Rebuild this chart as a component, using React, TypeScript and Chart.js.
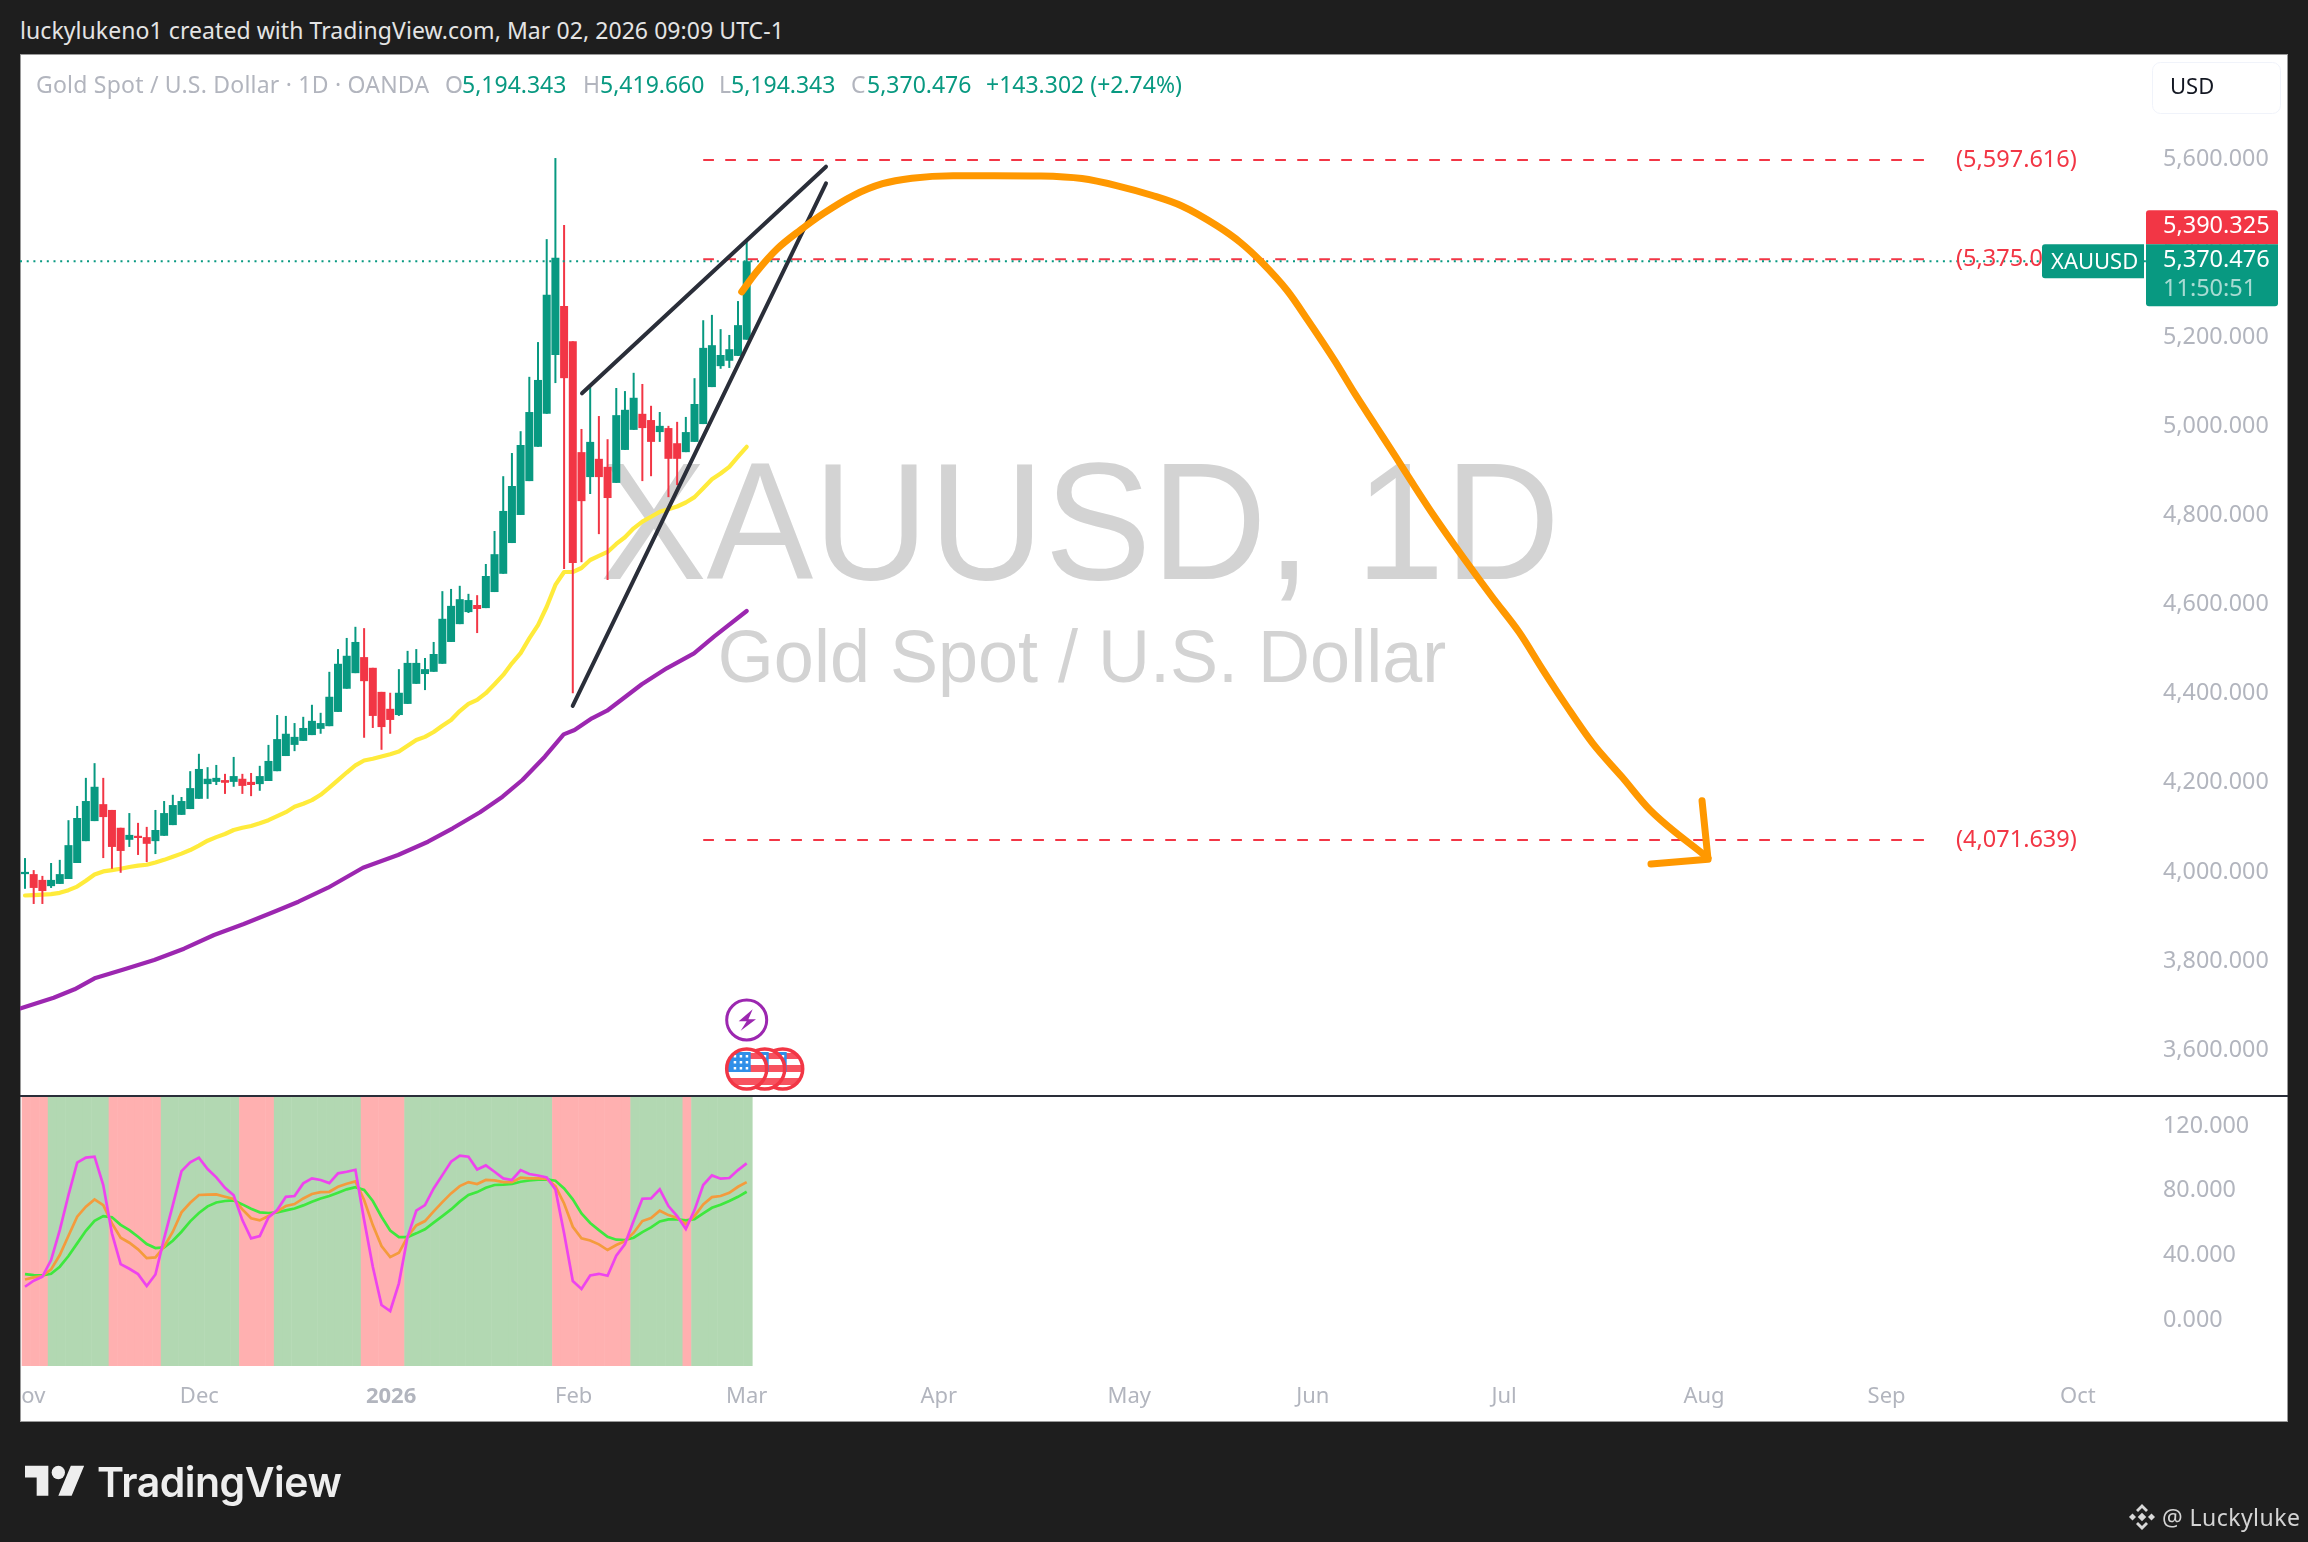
import React, { useEffect, useRef } from "react";
import { Chart, registerables } from "chart.js";

Chart.register(...registerables);

const WIDTH = 2308;
const HEIGHT = 1542;
const FONT = '"Noto Sans", sans-serif';
const GREEN = "#089981";
const RED = "#f23645";
const AXIS_TEXT = "#b2b5be";

// ---------- daily candles (XAUUSD, 1D) ----------
const opens = [3995,3995,3982,3968,3973,3984,4020,4069,4114,4152,4139,4099,4072,4081,4078,4069,4081,4105,4128,4141,4164,4197,4202,4206,4202,4209,4202,4197,4204,4226,4260,4285,4294,4307,4321,4327,4359,4411,4446,4482,4458,4404,4366,4352,4377,4422,4444,4449,4467,4516,4556,4583,4599,4592,4628,4669,4738,4801,4877,4954,5028,5160,5270,5191,4942,4886,4927,4909,4873,4947,4992,5028,5014,4987,4996,4962,4942,4965,5005,5088,5135,5147,5158,5194.343];
const highs = [4031,4004,3991,4020,4027,4116,4148,4211,4244,4211,4139,4099,4132,4110,4101,4139,4159,4173,4168,4226,4265,4235,4240,4220,4258,4220,4222,4238,4285,4352,4350,4334,4348,4375,4357,4449,4500,4525,4550,4547,4458,4404,4402,4455,4496,4500,4480,4516,4630,4635,4642,4624,4621,4691,4765,4888,4940,4989,5111,5189,5420,5602,5452,5191,4994,5088,5023,4971,5086,5079,5120,5095,5046,5032,5001,5010,5021,5108,5238,5250,5218,5205,5281,5419.66];
const lows = [3962,3928,3928,3964,3973,3984,4020,4069,4114,4031,4007,3998,4056,4038,4022,4040,4081,4105,4128,4141,4164,4164,4195,4175,4191,4175,4170,4182,4204,4226,4260,4271,4294,4307,4310,4327,4359,4411,4446,4301,4323,4274,4310,4350,4377,4422,4408,4449,4467,4516,4556,4581,4536,4592,4628,4669,4738,4801,4877,4954,5028,5097,4680,4401,4695,4848,4758,4655,4873,4947,4992,4877,4888,4965,4841,4868,4942,4965,5005,5088,5129,5131,5158,5194.343];
const closes = [4000,3964,3957,3982,3995,4060,4121,4159,4191,4123,4056,4047,4083,4076,4063,4094,4132,4150,4159,4188,4231,4209,4211,4200,4215,4193,4195,4215,4249,4298,4310,4303,4323,4339,4334,4393,4467,4485,4516,4428,4350,4325,4341,4402,4469,4469,4455,4489,4568,4597,4612,4610,4590,4664,4713,4810,4866,4958,5032,5104,5295,5378,5108,4693,4832,4965,4886,4839,5025,5037,5064,4996,4965,5001,4927,4927,4987,5050,5176,5182,5160,5173,5227,5370.476];

// ---------- moving averages ----------
const fastMa = [3947,3948,3949,3950,3953,3959,3967,3980,3994,4001,4004,4007,4011,4014,4016,4021,4027,4034,4041,4049,4059,4070,4078,4085,4094,4099,4103,4109,4116,4125,4134,4146,4153,4161,4173,4189,4206,4223,4239,4250,4254,4259,4264,4270,4283,4296,4303,4314,4328,4341,4361,4377,4386,4401,4421,4442,4468,4491,4524,4554,4595,4644,4673,4673,4682,4700,4709,4718,4736,4751,4771,4786,4797,4808,4814,4820,4829,4841,4861,4881,4894,4909,4932,4954];
const slowMaBars = [-0.47,3.3,5.7,8,11.43,14.86,18.29,21.74,25.16,28.87,31.45,34.85,38.87,42.9,46.35,49.19,52.33,54.92,57.2,59.78,61.95,63.2,65.2,66.94,70.94,73.8,76.94,79.24,83];
const slowMaValues = [3693.8,3717.6,3736.5,3761.2,3781.4,3802.2,3827.6,3858.3,3883,3912.2,3933.1,3964.5,4009.4,4037.9,4067.7,4097.8,4133.7,4168.7,4206.2,4258.5,4308.7,4318.4,4344.7,4361.7,4421,4456.9,4490.5,4527.8,4585.5];

// ---------- lower pane oscillator ----------
const oscFast = [20.6,24.3,26.8,37.1,55.6,77.3,97.3,100.4,101,83.5,53.6,34.6,31.7,28.4,21,28.2,50.5,71.1,92.1,97.5,100.4,93.4,88.2,81.8,77.1,61.8,50.5,51.9,63.5,68,76.2,76.7,84.5,87.6,86.6,84.7,90.7,91.7,92.9,61.8,33,9.3,5.6,22.7,51.5,67.6,71.1,81.4,89.6,97.9,101.6,101,93.1,95.6,91.7,87.6,86.6,92.7,90.3,89.4,88.2,80.8,53.6,24.1,19.2,27.6,28.6,27.4,39.8,47,61.4,75,75.2,80.8,70.5,64.3,56.3,68,83.5,89.4,87.4,87.8,92.7,96.9];
const oscMid = [25.1,26.4,27.2,31.3,40.2,52.1,63.9,70.1,74.6,71.1,59.8,50.9,47.8,43.7,38.3,38.7,45.3,54.6,66.6,72.5,77.3,77.5,77.7,76.2,74.8,68.4,62.9,61.6,64.3,67.2,70.5,71.7,75.2,77.9,79.1,79.3,82.4,84.3,85.7,74.2,58.7,45.7,38.9,41.6,51.5,58.5,61.2,67.2,72.9,78.3,82.8,85.3,84.1,86.6,86.3,85.3,85.3,88,87.6,87.6,87.2,82.8,72.1,57.7,50.5,49.2,46.8,43.3,46.4,48.8,54,61.2,63.1,67.6,64.9,63.1,59.3,64.3,71.5,76,76.7,78.7,82.4,85.3];
const oscSlow = [28.4,27.8,27.6,28.6,33,39.6,47.4,55.2,61.4,64.3,63.5,58.9,55.6,51.5,47,44.5,44.9,49,54.6,61,66.2,70.3,72.7,73.6,74,71.5,68.8,66.6,66.2,66.6,67.8,69,70.9,73.2,75.2,76.7,78.7,80.8,82.2,80.4,73.6,63.9,55.4,51.3,51.3,53.6,56.1,60.2,64.3,68.4,73.2,77.3,79.1,81.8,83.5,83.7,84.1,85.5,86.3,86.8,87,86.1,81.4,74.6,65.9,60,55.6,51.5,49.7,49.5,50.9,54.4,57.3,61,62.2,62.2,61.6,62.4,65.9,69.4,71.3,73.6,76.2,79.3];
// run lengths (in bars) of the alternating background, starting with the bearish colour
const bandRuns = [3, 7, 6, 9, 4, 10, 5, 17, 9, 6, 1, 7];

// ---------- drawings ----------
const wedgeUpperBars = [64.06, 92.12];
const wedgeUpperValues = [5074, 5582.65];
const wedgeLowerBars = [62.99, 92.12];
const wedgeLowerValues = [4372.3, 5545.2];
const forecastBars = [82.43,84.12,86.49,89.18,91.88,95.25,98.63,102,106.73,111.44,116.85,121.56,125.63,129.67,133.05,137.09,139.8,142.15,145.2,147.56,150.6,152.96,155.3,157.67,159.37,162.05,165.45,168.83,171.82,174.56,177.26,180.3,183.67,186.89,193.56];
const forecastValues = [5301.8,5346.2,5397.9,5440.5,5478.4,5517.9,5544.4,5556.8,5562.4,5562.4,5561.7,5555.9,5539.7,5517.9,5494.4,5449.9,5412.2,5369.8,5303.6,5237.4,5147.9,5072.5,5002,4930.6,4878.6,4798.7,4704.4,4614.6,4538.3,4453.5,4373.2,4288.4,4212.9,4138.9,4031];
const arrowBars = [192.87, 193.56, 187.0];
const arrowValues = [4159.7, 4028.2, 4017.7];
const levelValues = [5597.616, 5375.0, 4071.639];
const levelStartBar = 78;
const levelEndBar = 218.4;
const levelLabelBar = 222.08;
const lastClose = 5370.476;
const askPrice = 5390.325;

// ---------- axes ----------
const priceTicks = [5600, 5400, 5200, 5000, 4800, 4600, 4400, 4200, 4000, 3800, 3600];
const oscTicks = [120, 80, 40, 0];
const timeTickBars = [0, 20.05, 42.1, 63.1, 83, 105.1, 127, 148.1, 170.1, 193.1, 214.1, 236.1];
const timeTickLabels = ["Nov", "Dec", "2026", "Feb", "Mar", "Apr", "May", "Jun", "Jul", "Aug", "Sep", "Oct"];
const boldTimeTick = "2026";

const fmt = (v: number) =>
  v.toLocaleString("en-US", { minimumFractionDigits: 3, maximumFractionDigits: 3 });
const zipXY = (xs: number[], ys: number[]) => xs.map((x, i) => ({ x, y: ys[i] }));

const legendParts = [
  { x: 36, text: "Gold Spot / U.S. Dollar · 1D · OANDA", color: AXIS_TEXT, spacing: "0.22px" },
  { x: 445, text: "O", color: AXIS_TEXT, spacing: "0px" },
  { x: 462, text: "5,194.343", color: GREEN, spacing: "0px" },
  { x: 583, text: "H", color: AXIS_TEXT, spacing: "0px" },
  { x: 600, text: "5,419.660", color: GREEN, spacing: "0px" },
  { x: 719, text: "L", color: AXIS_TEXT, spacing: "0px" },
  { x: 731, text: "5,194.343", color: GREEN, spacing: "0px" },
  { x: 851, text: "C", color: AXIS_TEXT, spacing: "0px" },
  { x: 867, text: "5,370.476", color: GREEN, spacing: "0px" },
  { x: 986, text: "+143.302 (+2.74%)", color: GREEN, spacing: "0px" },
];

function rr(ctx: CanvasRenderingContext2D, x: number, y: number, w: number, h: number, r: any) {
  ctx.beginPath();
  ctx.roundRect(x, y, w, h, r);
}

function drawFlag(ctx: CanvasRenderingContext2D, cx: number, cy: number) {
  ctx.save();
  ctx.beginPath();
  ctx.arc(cx, cy, 20, 0, Math.PI * 2);
  ctx.fillStyle = "#ffffff";
  ctx.fill();
  ctx.clip();
  ctx.fillStyle = "#f7525f";
  ctx.fillRect(cx - 20, cy - 16, 40, 6);
  ctx.fillRect(cx - 20, cy - 4, 40, 7);
  ctx.fillRect(cx - 20, cy + 9, 40, 7);
  ctx.fillStyle = "#2f8fe8";
  ctx.fillRect(cx - 20, cy - 17, 24, 20);
  ctx.fillStyle = "#ffffff";
  for (let r = 0; r < 3; r++) {
    for (let c = 0; c < 3; c++) {
      ctx.fillRect(cx - 13 + c * 6, cy - 14 + r * 6, 2.5, 2.5);
    }
  }
  ctx.restore();
  ctx.beginPath();
  ctx.arc(cx, cy, 20, 0, Math.PI * 2);
  ctx.lineWidth = 3.5;
  ctx.strokeStyle = RED;
  ctx.stroke();
}

const watermarkPlugin = {
  id: "watermark",
  beforeDatasetsDraw(chart: any) {
    const ctx = chart.ctx as CanvasRenderingContext2D;
    ctx.save();
    ctx.fillStyle = "#d3d3d3";
    ctx.textAlign = "center";
    ctx.textBaseline = "alphabetic";
    ctx.save();
    ctx.translate(1080, 578.5);
    ctx.scale(1, 1.04);
    ctx.font = '160px "Liberation Sans"';
    ctx.fillText("XAUUSD, 1D", 0, 0);
    ctx.restore();
    ctx.save();
    ctx.translate(1082, 682);
    ctx.scale(1, 1.04);
    ctx.font = '72px "Liberation Sans"';
    ctx.fillText("Gold Spot / U.S. Dollar", 0, 0);
    ctx.restore();
    ctx.restore();
  },
};

const overlayPlugin = {
  id: "overlay",
  afterDatasetsDraw(chart: any) {
    const ctx = chart.ctx as CanvasRenderingContext2D;
    const xs = chart.scales.x;
    const ys = chart.scales.y;
    ctx.save();

    // pane separator
    ctx.fillStyle = "#2a2e39";
    ctx.fillRect(20, 1095, 2268, 2);

    ctx.textBaseline = "middle";
    ctx.textAlign = "left";

    // legend
    ctx.font = `23px ${FONT}`;
    legendParts.forEach((p) => {
      (ctx as any).letterSpacing = p.spacing;
      ctx.fillStyle = p.color;
      ctx.fillText(p.text, p.x, 86.5);
    });
    (ctx as any).letterSpacing = "0px";

    // level labels
    ctx.font = `23.5px ${FONT}`;
    ctx.fillStyle = RED;
    levelValues.forEach((v) => {
      ctx.fillText(`(${fmt(v)})`, xs.getPixelForValue(levelLabelBar), ys.getPixelForValue(v));
    });

    // USD box
    ctx.fillStyle = "#ffffff";
    ctx.strokeStyle = "#f0f3fa";
    ctx.lineWidth = 1;
    rr(ctx, 2152.5, 62.5, 128, 51, 8);
    ctx.fill();
    ctx.stroke();
    ctx.fillStyle = "#131722";
    ctx.font = `22px ${FONT}`;
    ctx.fillText("USD", 2170, 88);

    // price tags
    const closeY = ys.getPixelForValue(lastClose);
    ctx.fillStyle = GREEN;
    rr(ctx, 2042, closeY - 17, 102, 34, [3, 0, 0, 3]);
    ctx.fill();
    ctx.fillStyle = RED;
    rr(ctx, 2146, closeY - 51, 132, 34, [3, 3, 0, 0]);
    ctx.fill();
    ctx.fillStyle = GREEN;
    rr(ctx, 2146, closeY - 17, 132, 62, [0, 0, 3, 3]);
    ctx.fill();
    ctx.fillStyle = "#ffffff";
    ctx.font = `22px ${FONT}`;
    ctx.fillText("XAUUSD", 2051, closeY + 2);
    ctx.font = `23.5px ${FONT}`;
    ctx.fillText(fmt(askPrice), 2163, closeY - 35);
    ctx.fillText(fmt(lastClose), 2163, closeY - 1);
    ctx.fillStyle = "rgba(255,255,255,0.65)";
    ctx.fillText("11:50:51", 2163, closeY + 28);

    // event markers on the last bar
    const lx = xs.getPixelForValue(opens.length - 1);
    drawFlag(ctx, lx + 36, 1069);
    drawFlag(ctx, lx + 18, 1069);
    drawFlag(ctx, lx, 1069);
    const by = 1020;
    ctx.beginPath();
    ctx.arc(lx, by, 20, 0, Math.PI * 2);
    ctx.fillStyle = "#ffffff";
    ctx.fill();
    ctx.strokeStyle = "#9c27b0";
    ctx.lineWidth = 3;
    ctx.stroke();
    ctx.beginPath();
    ctx.moveTo(lx + 6, by - 10.7);
    ctx.lineTo(lx - 8, by + 1.3);
    ctx.lineTo(lx, by + 1.3);
    ctx.lineTo(lx - 6, by + 10.7);
    ctx.lineTo(lx + 9.3, by - 0.7);
    ctx.lineTo(lx + 1.7, by - 0.7);
    ctx.closePath();
    ctx.fillStyle = "#9c27b0";
    ctx.fill();

    ctx.restore();
  },
};

export default function App() {
  const ref = useRef<HTMLCanvasElement | null>(null);

  useEffect(() => {
    if (!ref.current) return;
    const bars = opens.map((_, i) => i);
    const isUp = (i: number) => closes[i] >= opens[i];
    const candleColors = bars.map((i) => (isUp(i) ? GREEN : RED));

    const bandColors: string[] = [];
    bandRuns.forEach((n, k) => {
      for (let j = 0; j < n; j++) bandColors.push(k % 2 === 0 ? "#ffb0b0" : "#b2d8b2");
    });

    const OSC_MIN = -28.4;
    const OSC_MAX = 137.9;
    const lineBase = { type: "line", pointRadius: 0, fill: false, tension: 0 };

    const chart = new Chart(ref.current, {
      type: "bar",
      plugins: [watermarkPlugin, overlayPlugin],
      data: {
        datasets: [
          {
            label: "bands",
            type: "bar",
            yAxisID: "y2",
            order: 100,
            grouped: false,
            barThickness: 9.2,
            borderWidth: 0,
            inflateAmount: 0,
            backgroundColor: bandColors,
            data: bars.map((i) => ({ x: i + 0.15, y: [OSC_MIN, OSC_MAX] })),
          },
          { ...lineBase, label: "osc slow", yAxisID: "y2", order: 92, borderColor: "#3ee83e", borderWidth: 2.7, data: zipXY(bars, oscSlow) },
          { ...lineBase, label: "osc mid", yAxisID: "y2", order: 91, borderColor: "#f49b3c", borderWidth: 2.7, data: zipXY(bars, oscMid) },
          { ...lineBase, label: "osc fast", yAxisID: "y2", order: 90, borderColor: "#ee44ee", borderWidth: 2.7, data: zipXY(bars, oscFast) },
          { ...lineBase, label: "EMA slow", yAxisID: "y", order: 62, borderColor: "#9c27b0", borderWidth: 4.2, borderCapStyle: "round", borderJoinStyle: "round", data: zipXY(slowMaBars, slowMaValues) },
          { ...lineBase, label: "EMA fast", yAxisID: "y", order: 61, borderColor: "#ffeb3b", borderWidth: 4.2, borderCapStyle: "round", borderJoinStyle: "round", data: zipXY(bars, fastMa) },
          ...levelValues.map((v, k) => ({
            ...lineBase,
            label: `level ${k}`,
            yAxisID: "y",
            order: 70,
            borderColor: RED,
            borderWidth: 2,
            borderDash: [10.7, 11.3],
            data: [{ x: levelStartBar, y: v }, { x: levelEndBar, y: v }],
          })),
          {
            label: "wicks",
            type: "bar",
            yAxisID: "y",
            order: 50,
            grouped: false,
            barThickness: 2,
            borderWidth: 0,
            inflateAmount: 0,
            backgroundColor: candleColors,
            data: bars.map((i) => ({ x: i, y: [lows[i], highs[i]] })),
          },
          {
            label: "bodies",
            type: "bar",
            yAxisID: "y",
            order: 49,
            grouped: false,
            barThickness: 8,
            borderWidth: 0,
            inflateAmount: 0,
            backgroundColor: candleColors,
            data: bars.map((i) => ({ x: i, y: [opens[i], closes[i]] })),
          },
          {
            ...lineBase,
            label: "last price",
            yAxisID: "y",
            order: 48,
            borderColor: GREEN,
            borderWidth: 2,
            borderDash: [2, 4.7],
            data: [{ x: -0.575, y: lastClose }, { x: 243.93, y: lastClose }],
          },
          { ...lineBase, label: "wedge upper", yAxisID: "y", order: 30, borderColor: "#2a2e39", borderWidth: 4, borderCapStyle: "round", data: zipXY(wedgeUpperBars, wedgeUpperValues) },
          { ...lineBase, label: "wedge lower", yAxisID: "y", order: 29, borderColor: "#2a2e39", borderWidth: 4, borderCapStyle: "round", data: zipXY(wedgeLowerBars, wedgeLowerValues) },
          { ...lineBase, label: "forecast", yAxisID: "y", order: 21, cubicInterpolationMode: "monotone", borderColor: "#ff9800", borderWidth: 7, borderCapStyle: "round", borderJoinStyle: "round", data: zipXY(forecastBars, forecastValues) },
          { ...lineBase, label: "arrow", yAxisID: "y", order: 20, borderColor: "#ff9800", borderWidth: 7, borderCapStyle: "round", borderJoinStyle: "round", data: zipXY(arrowBars, arrowValues) },
        ] as any,
      },
      options: {
        responsive: false,
        devicePixelRatio: 1,
        animation: false,
        events: [],
        layout: { padding: { left: 20, right: 20, top: 54, bottom: 121 } },
        plugins: { legend: { display: false }, tooltip: { enabled: false }, title: { display: false } },
        scales: {
          x: {
            type: "linear",
            offset: false,
            min: -0.575,
            max: 243.93,
            grid: { display: false, drawTicks: false },
            border: { display: false },
            afterBuildTicks: (s: any) => {
              s.ticks = timeTickBars.map((value) => ({ value }));
            },
            afterFit: (s: any) => {
              s.height = 55;
              s.paddingLeft = 0;
              s.paddingRight = 0;
            },
            ticks: {
              autoSkip: false,
              maxRotation: 0,
              minRotation: 0,
              padding: 17.5,
              color: AXIS_TEXT,
              font: (c: any) => ({
                family: FONT,
                size: 22,
                weight: c.tick && timeTickLabels[timeTickBars.indexOf(c.tick.value)] === boldTimeTick ? "bold" : "normal",
              }),
              callback: (v: any) => timeTickLabels[timeTickBars.indexOf(Number(v))] ?? "",
            },
          },
          y: {
            type: "linear",
            position: "right",
            stack: "panes",
            stackWeight: 1043,
            min: 3494.8,
            max: 5835.5,
            grid: { display: false, drawTicks: false },
            border: { display: false },
            afterBuildTicks: (s: any) => {
              s.ticks = priceTicks.map((value) => ({ value }));
            },
            afterFit: (s: any) => {
              s.width = 142;
              s.paddingTop = 0;
              s.paddingBottom = 0;
            },
            ticks: {
              padding: 17,
              color: AXIS_TEXT,
              font: { family: FONT, size: 23.3 },
              callback: (v: any) => fmt(Number(v)),
            },
          },
          y2: {
            type: "linear",
            position: "right",
            stack: "panes",
            stackWeight: 269,
            min: OSC_MIN,
            max: OSC_MAX,
            grid: { display: false, drawTicks: false },
            border: { display: false },
            afterBuildTicks: (s: any) => {
              s.ticks = oscTicks.map((value) => ({ value }));
            },
            afterFit: (s: any) => {
              s.width = 142;
              s.paddingTop = 0;
              s.paddingBottom = 0;
            },
            ticks: {
              padding: 17,
              color: AXIS_TEXT,
              font: { family: FONT, size: 23.3 },
              callback: (v: any) => fmt(Number(v)),
            },
          },
        },
      } as any,
    });
    return () => chart.destroy();
  }, []);

  const abs = (s: React.CSSProperties): React.CSSProperties => ({ position: "absolute", ...s });

  return (
    <div style={abs({ left: 0, top: 0, width: WIDTH, height: HEIGHT, background: "#1e1e1e", overflow: "hidden" })}>
      <style>{"html,body{margin:0;padding:0;background:#1e1e1e;overflow:hidden}"}</style>
      <div
        style={abs({
          left: 20,
          top: 14,
          color: "#e4e4e4",
          font: `23px ${FONT}`,
          lineHeight: "32px",
          letterSpacing: "0.07px",
          whiteSpace: "nowrap",
        })}
      >
        luckylukeno1 created with TradingView.com, Mar 02, 2026 09:09 UTC-1
      </div>
      <div
        style={abs({
          left: 20,
          top: 54,
          width: 2268,
          height: 1368,
          boxSizing: "border-box",
          background: "#ffffff",
          border: "1px solid #9a9a9a",
        })}
      />
      <canvas ref={ref} width={WIDTH} height={HEIGHT} style={abs({ left: 0, top: 0, width: WIDTH, height: HEIGHT })} />
      {/* the first time label is cut by the panel edge */}
      <div style={abs({ left: 0, top: 1367, width: 20, height: 54, background: "#1e1e1e" })} />
      <svg style={abs({ left: 25, top: 1459, width: 60, height: 47 })} viewBox="0 0 36 28">
        <path fill="#eeeeee" d="M14 22H7V11H0V4h14v18zM28 22h-8l7.5-18h8L28 22z" />
        <circle fill="#eeeeee" cx="20" cy="8" r="4" />
      </svg>
      <div
        style={abs({
          left: 97,
          top: 1458,
          color: "#eeeeee",
          font: `600 41px Inter, ${FONT}`,
          lineHeight: "48px",
          letterSpacing: "-0.5px",
          whiteSpace: "nowrap",
        })}
      >
        TradingView
      </div>
      <svg style={abs({ left: 2128, top: 1503, width: 28, height: 28 })} viewBox="0 0 28 28" fill="#d8d8d8">
        <rect x="11" y="11" width="6" height="6" transform="rotate(45 14 14)" />
        <rect x="2" y="11.5" width="5" height="5" transform="rotate(45 4.5 14)" />
        <rect x="21" y="11.5" width="5" height="5" transform="rotate(45 23.5 14)" />
        <path d="M14 1l6 6-2 2-4-4-4 4-2-2zM14 27l6-6-2-2-4 4-4-4-2 2z" />
      </svg>
      <div
        style={abs({
          left: 2162,
          top: 1500,
          color: "#d4d4d4",
          font: `23px ${FONT}`,
          lineHeight: "34px",
          letterSpacing: "0.45px",
          whiteSpace: "nowrap",
        })}
      >
        @ Luckyluke
      </div>
    </div>
  );
}
